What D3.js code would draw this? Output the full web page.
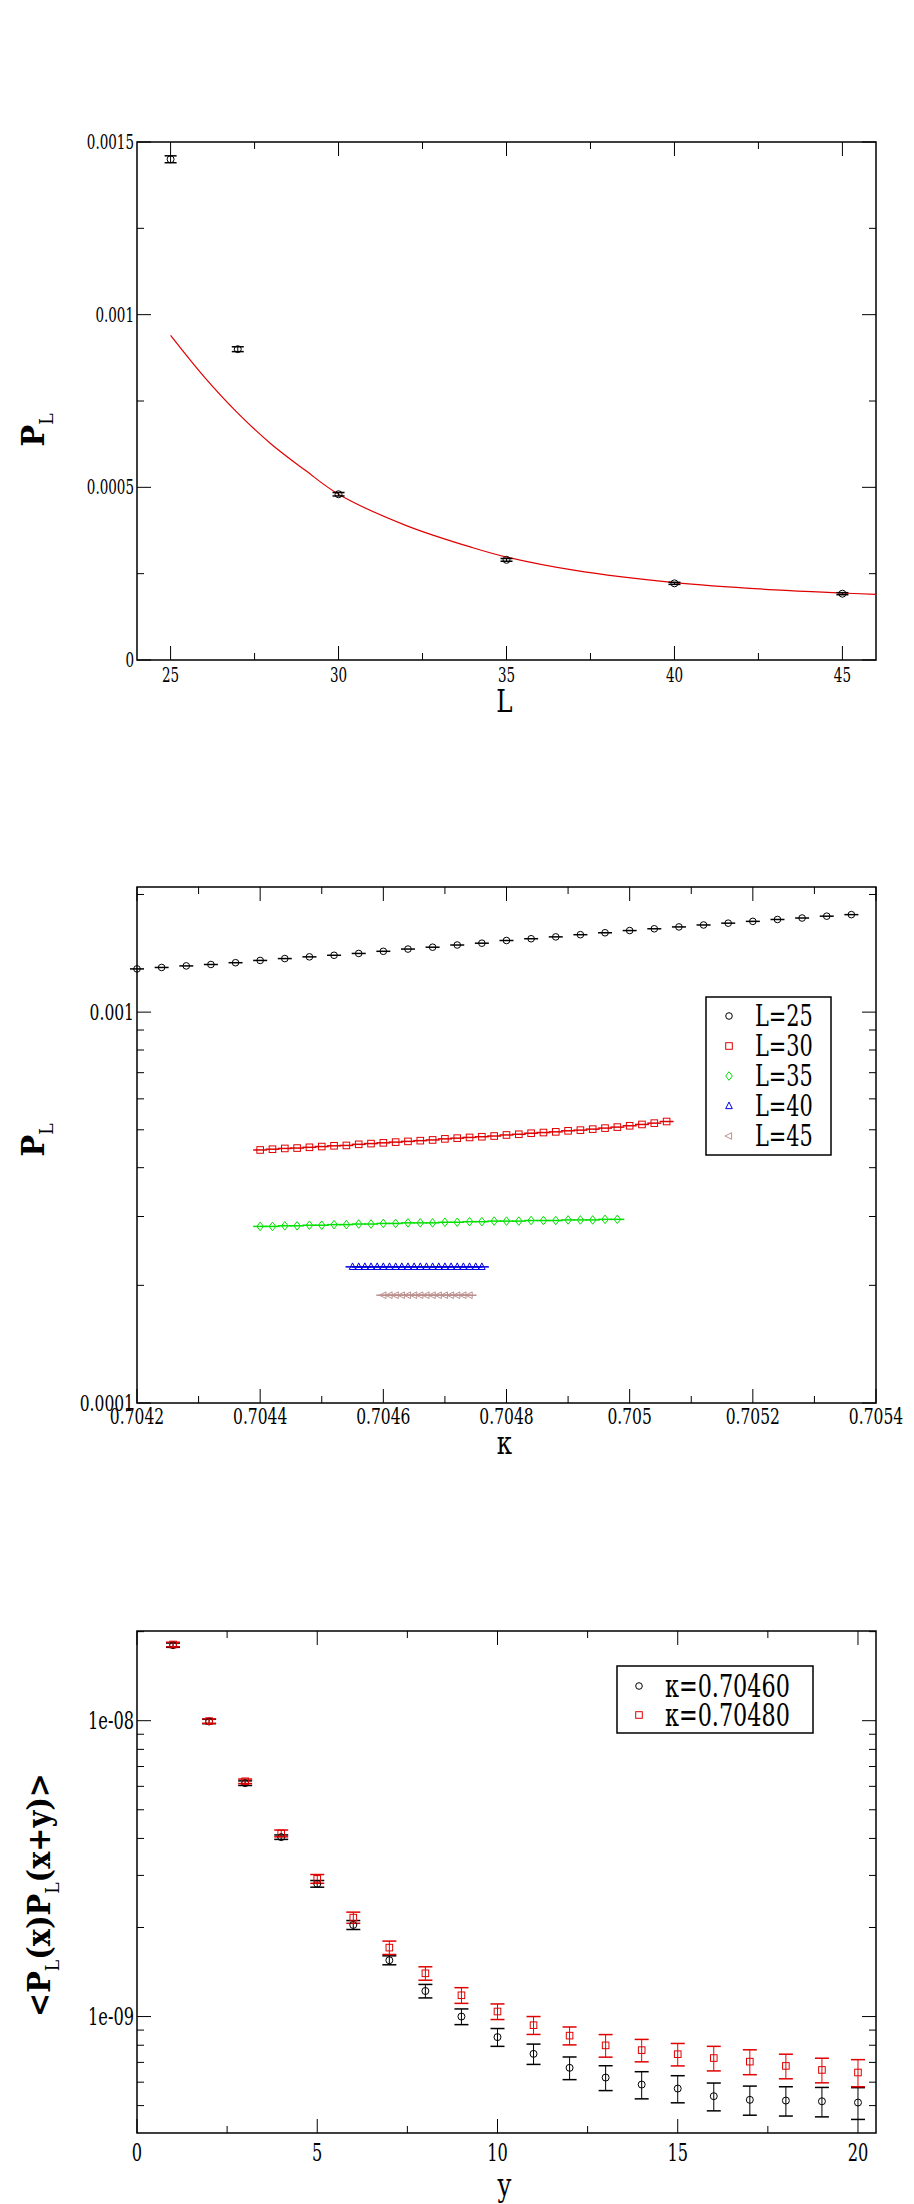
<!DOCTYPE html><html><head><meta charset="utf-8">
<script src="https://cdn.jsdelivr.net/npm/d3@7"></script>
<style>body{margin:0;background:#fff}text{font-family:"DejaVu Serif Condensed","DejaVu Serif",serif}</style></head><body>
<svg id="c" width="914" height="2204"></svg>
<script>
// ---- Panel 1 data ----
const p1L=[25,27,30,35,40,45];
const p1P=[0.00145,0.0009,0.00048,0.00029,0.000222,0.000192];
const p1E=[0.00001,0.000007,0.000005,0.000004,0.000003,0.000003];
const fitL=[25,26,27,28,29,30,32,34,35,37,40,43,45,46];
const fitP=[0.00094,0.00082,0.000715,0.000625,0.00055,0.00048,0.00039,0.000325,0.000298,0.00026,0.000224,0.000203,0.000194,0.00019];
const p1XTicks=[25,30,35,40,45];
const p1YTicks=[0,0.0005,0.001,0.0015];
// ---- Panel 2 data ----
const k25=d3.range(30).map(i=>0.7042+i*0.00004);
const v25=[1.290,1.301,1.313,1.324,1.338,1.356,1.371,1.385,1.398,1.413,1.431,1.450,1.466,1.485,1.501,1.525,1.541,1.558,1.578,1.596,1.617,1.634,1.652,1.671,1.689,1.707,1.726,1.741,1.760,1.776].map(v=>v*1e-3);
const k30=d3.range(34).map(i=>0.7044+i*0.00002);
const v30=[4.44,4.46,4.48,4.49,4.51,4.53,4.55,4.56,4.59,4.61,4.63,4.65,4.67,4.69,4.71,4.74,4.76,4.78,4.80,4.82,4.85,4.87,4.90,4.92,4.94,4.97,4.99,5.02,5.05,5.08,5.12,5.16,5.20,5.25].map(v=>v*1e-4);
const k35=d3.range(30).map(i=>0.7044+i*0.00002);
const v35=[2.83,2.83,2.84,2.84,2.85,2.85,2.86,2.86,2.87,2.87,2.88,2.88,2.89,2.89,2.89,2.90,2.90,2.91,2.91,2.92,2.92,2.92,2.93,2.93,2.93,2.94,2.94,2.94,2.95,2.95].map(v=>v*1e-4);
const k40=d3.range(22).map(i=>0.70455+i*0.00001);
const v40=[2.23,2.23,2.23,2.23,2.23,2.23,2.23,2.23,2.23,2.23,2.23,2.23,2.23,2.23,2.23,2.23,2.23,2.23,2.23,2.23,2.23,2.23].map(v=>v*1e-4);
const k45=d3.range(15).map(i=>0.7046+i*0.00001);
const v45=[1.887,1.887,1.887,1.887,1.887,1.887,1.887,1.887,1.887,1.887,1.887,1.887,1.887,1.887,1.887].map(v=>v*1e-4);
const p2Names=["L=25","L=30","L=35","L=40","L=45"];
const p2Colors=["#000","#e00000","#00e000","#0000e0","#bc8f8f"];
const p2XTicks=[0.7042,0.7044,0.7046,0.7048,0.705,0.7052,0.7054];
const p2XLabels=["0.7042","0.7044","0.7046","0.7048","0.705","0.7052","0.7054"];
// ---- Panel 3 data ----
const yv=d3.range(1,21);
const c1=[1.80e-8,9.94e-9,6.15e-9,4.04e-9,2.81e-9,2.04e-9,1.55e-9,1.22e-9,1.00e-9,8.52e-10,7.48e-10,6.71e-10,6.22e-10,5.89e-10,5.71e-10,5.38e-10,5.23e-10,5.20e-10,5.17e-10,5.12e-10];
const e1=[3e-10,1.7e-10,1.1e-10,0.7e-10,0.73e-10,0.71e-10,0.54e-10,0.64e-10,0.61e-10,0.59e-10,0.59e-10,0.59e-10,0.6e-10,0.62e-10,0.6e-10,0.58e-10,0.59e-10,0.59e-10,0.59e-10,0.63e-10];
const c2=[1.81e-8,9.97e-9,6.24e-9,4.16e-9,2.92e-9,2.16e-9,1.71e-9,1.40e-9,1.18e-9,1.04e-9,9.35e-10,8.62e-10,7.99e-10,7.70e-10,7.46e-10,7.24e-10,7.04e-10,6.81e-10,6.60e-10,6.47e-10];
const e2=[3.2e-10,1.7e-10,1.1e-10,1.1e-10,1.0e-10,0.94e-10,0.89e-10,0.73e-10,0.72e-10,0.63e-10,0.65e-10,0.6e-10,0.7e-10,0.67e-10,0.65e-10,0.69e-10,0.68e-10,0.65e-10,0.63e-10,0.68e-10];
const p3Names=["κ=0.70460","κ=0.70480"];
const p3XTicks=[0,5,10,15,20];

const svg=d3.select("#c");
const L0=137,R0=876;

function ctext(g,x,y,txt,size,anchor,sx){
  return g.append("text").attr("transform",`translate(${x},${y}) scale(${sx},1)`).attr("text-anchor",anchor).attr("font-size",size).text(txt);
}
function frame(g,x,y,top,bot,majX,minX,majY,minY,xfmt,yfmt,fs,lblGap,xlab,xlabY,ylabFn,ylabX,ylabY){
  g.append("rect").attr("x",L0).attr("y",top).attr("width",R0-L0).attr("height",bot-top).attr("fill","none").attr("stroke","#000").attr("stroke-width",1.5);
  const tk=(list,len,horiz)=>list.forEach(v=>{
    if(horiz){const px=x(v);g.append("line").attr("x1",px).attr("x2",px).attr("y1",bot).attr("y2",bot-len).attr("stroke","#000");
      g.append("line").attr("x1",px).attr("x2",px).attr("y1",top).attr("y2",top+len).attr("stroke","#000");}
    else{const py=y(v);g.append("line").attr("x1",L0).attr("x2",L0+len).attr("y1",py).attr("y2",py).attr("stroke","#000");
      g.append("line").attr("x1",R0).attr("x2",R0-len).attr("y1",py).attr("y2",py).attr("stroke","#000");}
  });
  tk(majX,14,true);tk(minX,7,true);tk(majY,14,false);tk(minY,7,false);
  majX.forEach((v,i)=>ctext(g,x(v),bot+lblGap,xfmt(v,i),fs,"middle",0.75));
  majY.forEach((v,i)=>ctext(g,L0-3,y(v)+fs*0.35,yfmt(v,i),fs,"end",0.75));
  ctext(g,(L0+R0)/2-2,xlabY,xlab,32,"middle",0.85);
  ylabFn(g.append("g").attr("transform",`translate(${ylabX},${ylabY}) rotate(-90)`));
}
function errbars(g,xs,ys,es,x,y,col,cap){
  xs.forEach((xv,i)=>{const px=x(xv),a=y(ys[i]+es[i]),b=y(Math.max(ys[i]-es[i],1e-20));
    g.append("line").attr("x1",px).attr("x2",px).attr("y1",a).attr("y2",b).attr("stroke",col);
    [a,b].forEach(v=>g.append("line").attr("x1",px-cap).attr("x2",px+cap).attr("y1",v).attr("y2",v).attr("stroke",col).attr("stroke-width",1.5));});
}
function sym(g,type,px,py,col,s){
  if(type==="circle")g.append("circle").attr("cx",px).attr("cy",py).attr("r",s).attr("fill","none").attr("stroke",col);
  else if(type==="square")g.append("rect").attr("x",px-s).attr("y",py-s).attr("width",2*s).attr("height",2*s).attr("fill","none").attr("stroke",col);
  else if(type==="diamond")g.append("path").attr("d",`M${px},${py-s*1.3}L${px+s},${py}L${px},${py+s*1.3}L${px-s},${py}Z`).attr("fill","none").attr("stroke",col);
  else if(type==="tri")g.append("path").attr("d",`M${px},${py-s*1.2}L${px+s},${py+s*0.8}L${px-s},${py+s*0.8}Z`).attr("fill","none").attr("stroke",col);
  else if(type==="ltri")g.append("path").attr("d",`M${px-s*1.2},${py}L${px+s*0.8},${py-s}L${px+s*0.8},${py+s}Z`).attr("fill","none").attr("stroke",col);
}
const PL=gg=>{const t=gg.append("text").attr("text-anchor","middle").attr("font-size",32).attr("font-weight","bold").attr("font-family","DejaVu Serif, serif");t.append("tspan").text("P");t.append("tspan").attr("font-size",19).attr("font-weight","normal").attr("dy",9).text("L");};

// ---- Panel 1 ----
{const g=svg.append("g");const top=142,bot=660;
 const x=d3.scaleLinear().domain([24,46]).range([L0,R0]);
 const y=d3.scaleLinear().domain([0,0.0015]).range([bot,top]);
 frame(g,x,y,top,bot,p1XTicks,[27.5,32.5,37.5,42.5],p1YTicks,[0.00025,0.00075,0.00125],(v)=>String(v),(v)=>v===0?"0":String(v),20,22,"L",712,PL,44,430);
 g.append("path").datum(fitL.map((l,i)=>[l,fitP[i]])).attr("d",d3.line().x(d=>x(d[0])).y(d=>y(d[1])).curve(d3.curveCatmullRom)).attr("fill","none").attr("stroke","#e00000").attr("stroke-width",1.2);
 errbars(g,p1L,p1P,p1E,x,y,"#000",6);
 p1L.forEach((l,i)=>sym(g,"circle",x(l),y(p1P[i]),"#000",3.5));
}
// ---- Panel 2 ----
{const g=svg.append("g");const top=887,bot=1403;
 const x=d3.scaleLinear().domain([0.7042,0.7054]).range([L0,R0]);
 const y=d3.scaleLog().domain([0.0001,0.00209]).range([bot,top]);
 const minX=d3.range(6).map(i=>0.7043+i*0.0002);
 const minY=[2,3,4,5,6,7,8,9].map(v=>v*1e-4).concat([2e-3]);
 frame(g,x,y,top,bot,p2XTicks,minX,[0.0001,0.001],minY,(v,i)=>p2XLabels[i],(v)=>v===0.001?"0.001":"0.0001",23,21,"κ",1454,PL,44,1140);
 const sets=[[k25,v25,"circle"],[k30,v30,"square"],[k35,v35,"diamond"],[k40,v40,"tri"],[k45,v45,"ltri"]];
 sets.forEach(([ks,vs,t],si)=>{const col=p2Colors[si];
   ks.forEach((k,i)=>{const px=x(k),py=y(vs[i]);
     g.append("line").attr("x1",px-7).attr("x2",px+7).attr("y1",py).attr("y2",py).attr("stroke",col).attr("stroke-width",1.5);
     sym(g,t,px,py,col,3.3);});});
 const lg=g.append("g");lg.append("rect").attr("x",706).attr("y",997).attr("width",125).attr("height",158).attr("fill","#fff").attr("stroke","#000").attr("stroke-width",1.5);
 p2Names.forEach((n,i)=>{const yy=1016+i*30;sym(lg,sets[i][2],729,yy,p2Colors[i],3.3);
   ctext(lg,755,yy+10,n,29,"start",0.8);});
}
// ---- Panel 3 ----
{const g=svg.append("g");const top=1631,bot=2133;
 const x=d3.scaleLinear().domain([0,20.5]).range([L0,R0]);
 const y=d3.scaleLog().domain([4.04e-10,2.01e-8]).range([bot,top]);
 const minY=[5,6,7,8,9].map(v=>v*1e-10).concat([2,3,4,5,6,7,8,9].map(v=>v*1e-9)).concat([2e-8]);
 frame(g,x,y,top,bot,p3XTicks,[2.5,7.5,12.5,17.5],[1e-9,1e-8],minY,(v)=>String(v),(v)=>v===1e-8?"1e-08":"1e-09",24,28,"y",2196,
  gg=>{const t=gg.append("text").attr("text-anchor","middle").attr("font-size",32).attr("font-weight","bold").attr("font-family","DejaVu Serif, serif");
    const sub=s=>t.append("tspan").attr("font-size",19).attr("font-weight","normal").attr("dy",9).text(s);
    t.append("tspan").text("<P");sub("L");
    t.append("tspan").attr("dy",-9).text("(x)P");sub("L");
    t.append("tspan").attr("dy",-9).text("(x+y)>");},50,1895);
 errbars(g,yv,c1,e1,x,y,"#000",7);
 errbars(g,yv,c2,e2,x,y,"#e00000",7);
 yv.forEach((v,i)=>sym(g,"circle",x(v),y(c1[i]),"#000",3.5));
 yv.forEach((v,i)=>sym(g,"square",x(v),y(c2[i]),"#e00000",3.3));
 const lg=g.append("g");lg.append("rect").attr("x",617).attr("y",1666).attr("width",196).attr("height",67).attr("fill","#fff").attr("stroke","#000").attr("stroke-width",1.5);
 [["circle","#000"],["square","#e00000"]].forEach(([t,c],i)=>{const yy=1686+i*29;sym(lg,t,639,yy,c,3.3);
   ctext(lg,665,yy+11,p3Names[i],31,"start",0.8);});
}
</script></body></html>
